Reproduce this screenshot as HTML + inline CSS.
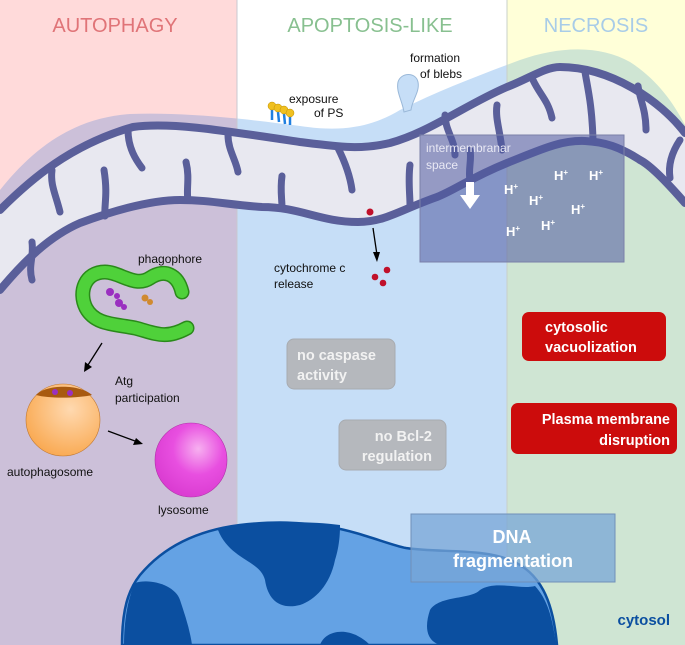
<!DOCTYPE html>
<html><head><meta charset="utf-8"><style>
html,body{margin:0;padding:0;background:#fff}
svg{display:block}
text{font-family:"Liberation Sans",Arial,sans-serif}
</style></head><body>
<svg width="685" height="645" viewBox="0 0 685 645" xmlns="http://www.w3.org/2000/svg">
<defs>
<radialGradient id="og" cx="0.6" cy="0.35" r="0.7"><stop offset="0" stop-color="#ffd9b0"/><stop offset="1" stop-color="#f9a84f"/></radialGradient>
<radialGradient id="pg" cx="0.6" cy="0.35" r="0.7"><stop offset="0" stop-color="#f7b0f0"/><stop offset="0.5" stop-color="#e84fe0"/><stop offset="1" stop-color="#d93ad0"/></radialGradient>
<clipPath id="cl"><rect x="0" y="0" width="237" height="645"/></clipPath>
<clipPath id="cm"><rect x="237" y="0" width="270" height="645"/></clipPath>
<clipPath id="cr"><rect x="507" y="0" width="178" height="645"/></clipPath>
</defs>
<rect x="0" y="0" width="237" height="645" fill="#ffdada"/>
<rect x="237" y="0" width="270" height="645" fill="#ffffff"/>
<rect x="507" y="0" width="178" height="645" fill="#ffffd8"/>
<path d="M0,190 C40,140 80,118 130,114 C180,112 240,118 300,126 C340,132 370,128 400,110 C440,90 480,75 520,60 C560,46 600,45 630,62 C655,78 672,100 685,125 L685,645 L0,645 Z" fill="#ccc0d9" clip-path="url(#cl)"/>
<path d="M0,190 C40,140 80,118 130,114 C180,112 240,118 300,126 C340,132 370,128 400,110 C440,90 480,75 520,60 C560,46 600,45 630,62 C655,78 672,100 685,125 L685,645 L0,645 Z" fill="#c6def7" clip-path="url(#cm)"/>
<path d="M0,190 C40,140 80,118 130,114 C180,112 240,118 300,126 C340,132 370,128 400,110 C440,90 480,75 520,60 C560,46 600,45 630,62 C655,78 672,100 685,125 L685,645 L0,645 Z" fill="#cfe5d3" clip-path="url(#cr)"/>
<line x1="237" y1="0" x2="237" y2="645" stroke="#c8c8d0" stroke-width="1"/>
<line x1="507" y1="0" x2="507" y2="645" stroke="#c8d0c8" stroke-width="1"/>
<path d="M404,112 C402,100 396,92 398,82 C401,72 416,72 418,82 C420,92 412,100 411,110 Z" fill="#c6def7" stroke="#9ab8d8" stroke-width="1"/>
<g stroke="#1f7fe0" stroke-width="2.5"><line x1="272" y1="110" x2="272" y2="120"/><line x1="278" y1="112" x2="279" y2="122"/><line x1="284" y1="114" x2="285" y2="124"/><line x1="290" y1="116" x2="290" y2="125"/></g>
<g fill="#f0c020" stroke="#c09000" stroke-width="0.5"><circle cx="272" cy="106" r="4"/><circle cx="278" cy="108" r="4"/><circle cx="284" cy="110" r="4"/><circle cx="290" cy="113" r="4"/></g>
<path d="M0,210 C30,180 70,145 133,127 C170,122 220,130 300,142 C340,147 360,150 390,143 C430,132 465,105 507,87 C530,78 545,67 560,67 C610,67 660,100 685,133 L685,203 C665,180 650,165 640,160 C620,147 605,142 585,141 C560,140 540,150 507,163 C470,178 455,190 437,197 C400,210 385,222 358,222 C320,222 300,207 262,207 C230,205 210,200 180,200 C150,200 110,212 80,223 C50,236 25,260 0,290 Z" fill="#e8e8f0"/>
<g fill="none" stroke="#5a5f9a" stroke-width="8" stroke-linecap="round">
<path d="M0,210 C30,180 70,145 133,127 C170,122 220,130 300,142 C340,147 360,150 390,143 C430,132 465,105 507,87 C530,78 545,67 560,67 C610,67 660,100 685,133"/>
<path d="M0,290 C25,260 50,236 80,223 C110,212 150,200 180,200 C210,200 230,205 262,207 C300,207 320,222 358,222 C385,222 400,210 437,197 C455,190 470,178 507,163 C540,150 560,140 585,141 C605,142 620,147 640,160 C650,165 665,180 685,203"/>
</g>
<g fill="none" stroke="#5a5f9a" stroke-width="7" stroke-linecap="round">
<path d="M52,170 C50,185 56,195 60,212"/>
<path d="M128,130 C128,148 136,160 142,168"/>
<path d="M228,135 C228,150 236,160 238,172"/>
<path d="M338,148 C345,162 350,175 352,190"/>
<path d="M445,115 C445,130 455,140 455,155"/>
<path d="M497,105 C495,118 500,130 502,150"/>
<path d="M533,80 C540,95 548,100 552,118"/>
<path d="M585,72 C588,90 592,105 593,140"/>
<path d="M638,86 C640,100 646,110 646,130"/>
<path d="M680,140 C672,152 668,165 670,178"/>
<path d="M32,280 C28,265 34,258 32,242"/>
<path d="M105,216 C104,205 108,195 104,170"/>
<path d="M188,200 C186,190 190,178 186,162"/>
<path d="M282,208 C282,198 280,190 282,176"/>
<path d="M410,205 C410,195 408,180 410,165"/>
<path d="M470,182 C468,168 472,160 470,150"/>
</g>
<rect x="420" y="135" width="204" height="127" fill="rgba(80,90,160,0.55)" stroke="#7a80a8" stroke-width="1"/>
<text x="426" y="152" font-size="12" fill="#e8e8f4">intermembranar</text>
<text x="426" y="169" font-size="12" fill="#e8e8f4">space</text>
<path d="M466,182 h8 v13 h6 l-10,14 l-10,-14 h6 z" fill="#fff"/>
<g font-size="13" font-weight="bold" fill="#fff">
<text x="504" y="194">H<tspan font-size="8" dy="-5">+</tspan></text>
<text x="554" y="180">H<tspan font-size="8" dy="-5">+</tspan></text>
<text x="589" y="180">H<tspan font-size="8" dy="-5">+</tspan></text>
<text x="529" y="205">H<tspan font-size="8" dy="-5">+</tspan></text>
<text x="571" y="214">H<tspan font-size="8" dy="-5">+</tspan></text>
<text x="541" y="230">H<tspan font-size="8" dy="-5">+</tspan></text>
<text x="506" y="236">H<tspan font-size="8" dy="-5">+</tspan></text>
</g>
<circle cx="370" cy="212" r="3.5" fill="#c0102a"/>
<line x1="373" y1="228" x2="377" y2="255" stroke="#000" stroke-width="1.3"/>
<path d="M373,252 l4,10 l3,-10 z" fill="#000"/>
<circle cx="387" cy="270" r="3.3" fill="#c0102a"/><circle cx="375" cy="277" r="3.3" fill="#c0102a"/><circle cx="383" cy="283" r="3.3" fill="#c0102a"/>
<g font-size="12" fill="#111">
<text x="289" y="103">exposure</text><text x="314" y="117">of PS</text>
<text x="410" y="62">formation</text><text x="420" y="78">of blebs</text>
<text x="274" y="272">cytochrome c</text><text x="274" y="288">release</text>
<text x="138" y="263">phagophore</text>
<text x="115" y="385">Atg</text><text x="115" y="402">participation</text>
<text x="7" y="476">autophagosome</text>
<text x="158" y="514">lysosome</text>
</g>
<path d="M182,292 C178,275 165,268 150,278 C135,288 120,272 105,272 C85,272 78,292 86,308 C95,325 115,324 135,328 C155,333 165,340 187,328" fill="none" stroke="#2a8a1a" stroke-width="15" stroke-linecap="round"/>
<path d="M182,292 C178,275 165,268 150,278 C135,288 120,272 105,272 C85,272 78,292 86,308 C95,325 115,324 135,328 C155,333 165,340 187,328" fill="none" stroke="#4fd13a" stroke-width="12" stroke-linecap="round"/>
<g fill="#9a30c0"><circle cx="110" cy="292" r="4"/><circle cx="117" cy="296" r="3"/><circle cx="119" cy="303" r="4"/><circle cx="124" cy="307" r="3"/></g>
<g fill="#d08a30"><circle cx="145" cy="298" r="3.5"/><circle cx="150" cy="302" r="3"/></g>
<line x1="102" y1="343" x2="88" y2="365" stroke="#000" stroke-width="1.3"/><path d="M84,372 l1,-10 l7,5 z" fill="#000"/>
<ellipse cx="63" cy="420" rx="37" ry="36" fill="url(#og)" stroke="#c07830" stroke-width="0.6"/>
<path d="M36,395 C46,384 80,384 92,395 C80,398 50,399 36,395 Z" fill="#a85a10"/>
<g fill="#9a30c0"><circle cx="55" cy="392" r="3"/><circle cx="70" cy="393" r="3"/></g>
<line x1="108" y1="431" x2="135" y2="441" stroke="#000" stroke-width="1.3"/><path d="M143,444 l-10,1 l3,-7 z" fill="#000"/>
<ellipse cx="191" cy="460" rx="36" ry="37" fill="url(#pg)" stroke="#b030a8" stroke-width="0.6"/>
<rect x="287" y="339" width="108" height="50" rx="7" fill="#b5b8bd" stroke="#a8abb0"/>
<text x="297" y="360" font-size="14.5" font-weight="bold" fill="#f2f2f2">no caspase</text>
<text x="297" y="380" font-size="14.5" font-weight="bold" fill="#f2f2f2">activity</text>
<rect x="339" y="420" width="107" height="50" rx="7" fill="#b5b8bd" stroke="#a8abb0"/>
<text x="432" y="441" font-size="14.5" font-weight="bold" fill="#f2f2f2" text-anchor="end">no Bcl-2</text>
<text x="432" y="461" font-size="14.5" font-weight="bold" fill="#f2f2f2" text-anchor="end">regulation</text>
<rect x="522" y="312" width="144" height="49" rx="7" fill="#cc0c0c"/>
<text x="545" y="332" font-size="14.5" font-weight="bold" fill="#fff">cytosolic</text>
<text x="545" y="352" font-size="14.5" font-weight="bold" fill="#fff">vacuolization</text>
<rect x="511" y="403" width="166" height="51" rx="7" fill="#cc0c0c"/>
<text x="670" y="424" font-size="14.5" font-weight="bold" fill="#fff" text-anchor="end">Plasma membrane</text>
<text x="670" y="445" font-size="14.5" font-weight="bold" fill="#fff" text-anchor="end">disruption</text>
<path d="M122,645 C122,610 128,590 140,575 C165,545 200,530 240,525 C275,521 300,522 330,527 C360,532 390,545 406,548 C440,553 480,548 510,560 C540,572 553,600 557,645 Z" fill="#64a2e4" stroke="#0b4fa0" stroke-width="2.5"/>
<g fill="#0b4fa0">
<path d="M218,530 C230,560 260,560 265,580 C268,600 280,610 300,605 C315,600 330,585 335,560 C340,545 340,530 340,525 C300,520 250,522 218,530 Z"/>
<path d="M135,583 C150,578 175,585 180,600 C185,615 190,630 192,645 L124,645 C124,620 128,598 135,583 Z"/>
<path d="M430,610 C440,595 470,600 480,590 C495,580 520,590 535,586 C548,600 553,620 556,645 L440,645 C425,640 425,625 430,610 Z"/>
<path d="M320,645 C325,630 350,625 370,645 Z"/>
</g>
<rect x="411" y="514" width="204" height="68" fill="rgba(120,165,215,0.75)" stroke="#7090b8" stroke-width="1"/>
<text x="512" y="543" font-size="18" font-weight="bold" fill="#fff" text-anchor="middle">DNA</text>
<text x="513" y="567" font-size="18" font-weight="bold" fill="#fff" text-anchor="middle">fragmentation</text>
<text x="670" y="625" font-size="15" font-weight="bold" fill="#0b4fa0" text-anchor="end">cytosol</text>
<text x="115" y="32" font-size="20" fill="#e07478" text-anchor="middle">AUTOPHAGY</text>
<text x="370" y="32" font-size="20" fill="#88c090" text-anchor="middle">APOPTOSIS-LIKE</text>
<text x="596" y="32" font-size="20" fill="#a8cce8" text-anchor="middle">NECROSIS</text>
</svg>
</body></html>
